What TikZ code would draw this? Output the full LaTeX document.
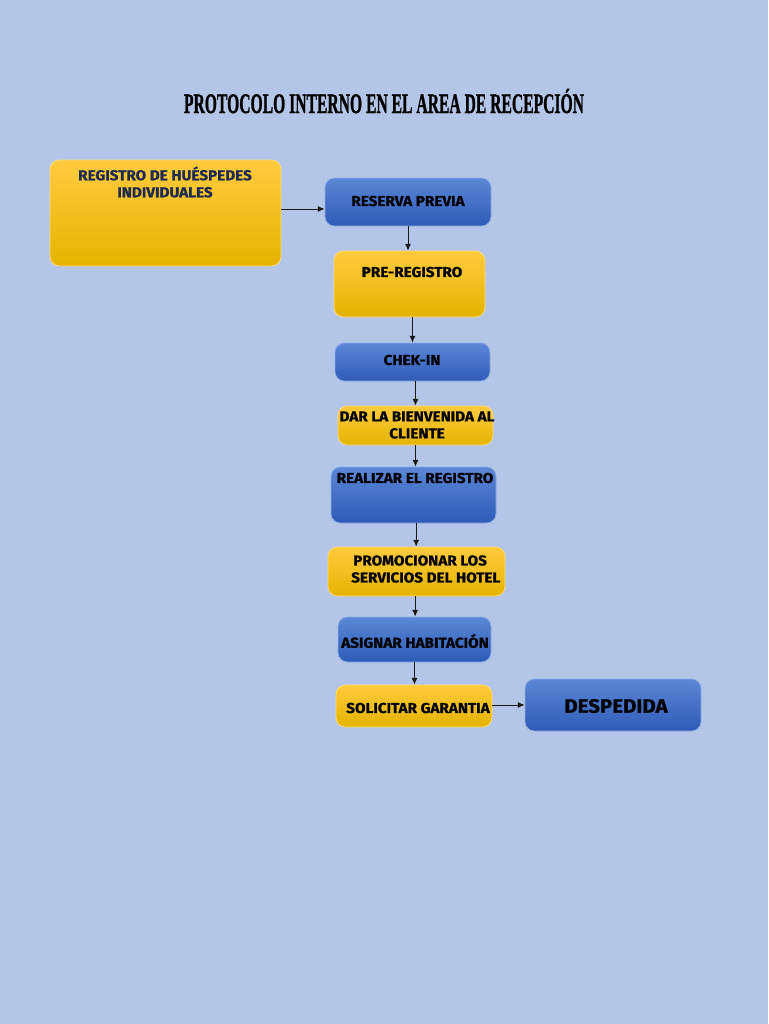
\documentclass[tikz,border=0pt]{standalone}
\usepackage{fontspec}
\setmainfont{Fira Sans}[FakeStretch=1.06, FakeBold=0.8]
\newfontfamily\titlefont{Liberation Serif}[FakeBold=1.5]
\usetikzlibrary{arrows.meta,fit,shapes.misc}
\definecolor{bgblue}{HTML}{B3C6E7}
\definecolor{ytop}{HTML}{FFCB3E}
\definecolor{ymid}{HTML}{FFC200}
\definecolor{ybot}{HTML}{E4B400}
\definecolor{btop}{HTML}{5B87D6}
\definecolor{bbot}{HTML}{2E5BB7}
\definecolor{navytxt}{HTML}{1E2B4E}
\definecolor{arrcol}{HTML}{1A1A1A}
\tikzset{
  boxbase/.style={rectangle, rounded corners=7pt, inner sep=0pt, line width=0.6pt},
  ybox/.style={boxbase, draw=ytop!70!white, top color=ytop, middle color=ymid, bottom color=ybot},
  bbox/.style={boxbase, draw=btop!70!white, top color=btop, bottom color=bbot},
  txt/.style={font=\bfseries\fontsize{10.8}{12.75}\selectfont, align=center, text=black, inner sep=0pt},
  arr/.style={draw=arrcol, line width=0.7pt, -{Latex[length=5pt,width=4.5pt]}}
}
\begin{document}
\begin{tikzpicture}[x=0.75pt,y=-0.75pt]
\fill[bgblue] (0,0) rectangle (768,1024);
\useasboundingbox (0,0) rectangle (768,1024);
% title
\node[inner sep=0pt, anchor=base] (title) at (384,113)
  {\resizebox{300pt}{14pt}{\titlefont\bfseries PROTOCOLO INTERNO EN EL AREA DE RECEPCI\smash{Ó}N}};
% boxes
\node[ybox, fit={(50,160) (281,266)}] (b1) {};
\node[bbox, fit={(325,178) (491,226)}] (b2) {};
\node[ybox, fit={(334,251) (485,317)}] (b3) {};
\node[bbox, fit={(335,343) (490,381)}] (b4) {};
\node[ybox, fit={(338,406) (493,445)}] (b5) {};
\node[bbox, fit={(331,467) (496,523)}] (b6) {};
\node[ybox, fit={(328,547) (505,596)}] (b7) {};
\node[bbox, fit={(338,617) (491,662)}] (b8) {};
\node[ybox, fit={(336,685) (492,727)}] (b9) {};
\node[bbox, fit={(525,679) (701,731)}] (b10) {};
% texts
\node[txt, text=navytxt] (t1) at (165,182) {REGISTRO DE HUÉSPEDES\\INDIVIDUALES};
\node[txt] (t2) at (408,201) {RESERVA PREVIA};
\node[txt] (t3) at (412,272) {PRE-REGISTRO};
\node[txt] (t4) at (412,360) {CHEK-IN};
\node[txt] (t5) at (417,425) {DAR LA BIENVENIDA AL\\CLIENTE};
\node[txt] (t6) at (415,478) {REALIZAR EL REGISTRO};
\node[txt, align=left, anchor=west] (t7) at (351,569) {\hspace*{1.5pt}PROMOCIONAR LOS\\SERVICIOS DEL HOTEL};
\node[txt] (t8) at (415,641) {ASIGNAR HABITACIÓN};
\node[txt] (t9) at (418,708) {SOLICITAR GARANTIA};
\node[txt, font=\bfseries\fontsize{14.5}{16}\selectfont] (t10) at (616,706) {DESPEDIDA};
% connectors
\coordinate (c1) at (281,209);
\draw[arr] (c1) -- (c1 -| b2.west);
\draw[arr] (b2.south) -- (b2.south |- b3.north);
\draw[arr] ([xshift=2.25pt]b3.south) -- ([xshift=2.25pt]b3.south |- b4.north);
\draw[arr] ([xshift=2.25pt]b4.south) -- ([xshift=2.25pt]b4.south |- b5.north);
\draw[arr] (b5.south) -- (b5.south |- b6.north);
\draw[arr] ([xshift=2pt]b6.south) -- ([xshift=2pt]b6.south |- b7.north);
\draw[arr] ([xshift=-1pt]b7.south) -- ([xshift=-1pt]b7.south |- b8.north);
\draw[arr] (b8.south) -- (b8.south |- b9.north);
\coordinate (c9) at (492,705);
\draw[arr] (c9) -- (c9 -| b10.west);
\end{tikzpicture}
\end{document}
